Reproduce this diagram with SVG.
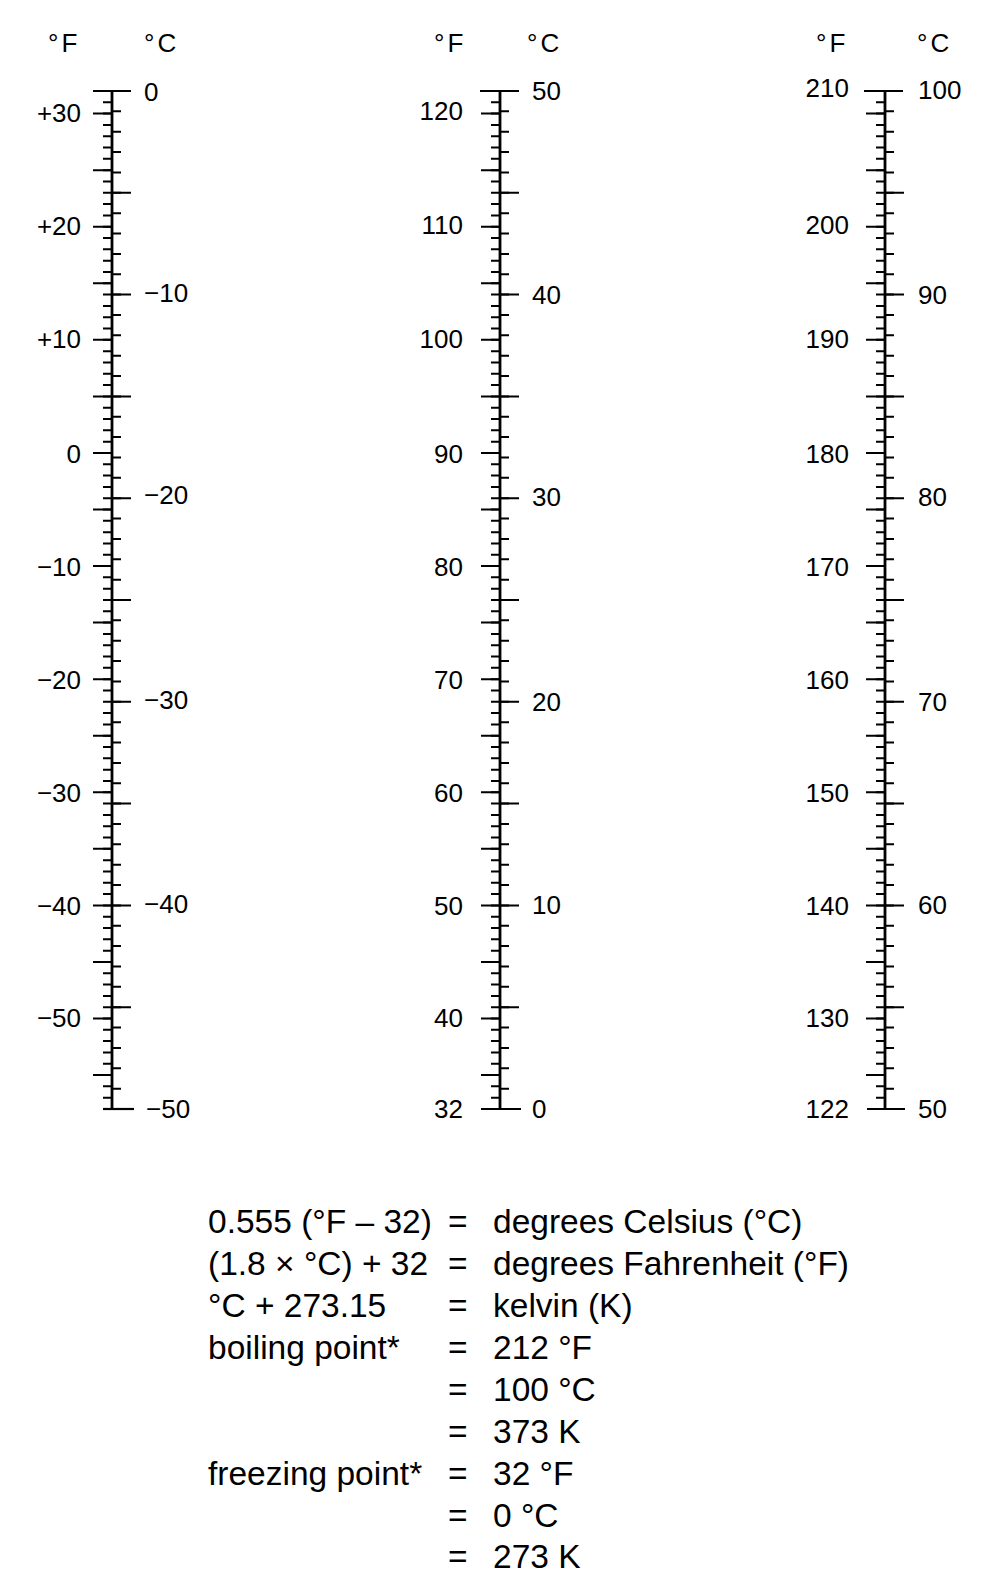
<svg xmlns="http://www.w3.org/2000/svg" xmlns:xlink="http://www.w3.org/1999/xlink" width="984" height="1596" viewBox="0 0 984 1596">
<style>
text{font-family:"Liberation Sans",Arial,Helvetica,sans-serif;font-size:26px;fill:#000}
.e{text-anchor:end}
.h{letter-spacing:3px}
#formulas text{font-size:33.5px}
.ax{stroke:#000;stroke-width:2.8;fill:none}
.t{stroke:#000;fill:none}
.end{stroke:#000;stroke-width:2.2}
</style>
<defs>
<g id="ticks">
<path class="ax" d="M0,91V1109"/>
<path class="t" d="M-4.5,101.31V1098.7" stroke-width="9" stroke-dasharray="2 9.311"/>
<path class="t" d="M-9.5,112.62V1076.1" stroke-width="19" stroke-dasharray="2 54.555"/>
<path class="t" d="M4.5,110.36V1089.7" stroke-width="9" stroke-dasharray="2 18.36"/>
<path class="t" d="M9.5,191.8V1008.3" stroke-width="19" stroke-dasharray="2 99.8"/>
</g>
</defs>
<rect width="984" height="1596" fill="#fff"/>

<g id="scale1">
<text class="h" x="48" y="52">°F</text>
<text class="h" x="144" y="52">°C</text>
<use xlink:href="#ticks" x="112"/>
<line class="end" x1="93" y1="91" x2="131" y2="91"/>
<line class="end" x1="103" y1="1109" x2="134" y2="1109"/>
<g class="e">
<text x="81" y="122">+30</text>
<text x="81" y="235">+20</text>
<text x="81" y="348">+10</text>
<text x="81" y="463">0</text>
<text x="81" y="576">−10</text>
<text x="81" y="689">−20</text>
<text x="81" y="802">−30</text>
<text x="81" y="915">−40</text>
<text x="81" y="1027">−50</text>
</g>
<text x="144" y="101">0</text>
<text x="144" y="302">−10</text>
<text x="144" y="504">−20</text>
<text x="144" y="709">−30</text>
<text x="144" y="913">−40</text>
<text x="146" y="1118">−50</text>
</g>

<g id="scale2">
<text class="h" x="434" y="52">°F</text>
<text class="h" x="527" y="52">°C</text>
<use xlink:href="#ticks" x="500"/>
<line class="end" x1="480" y1="91" x2="519" y2="91"/>
<line class="end" x1="481" y1="1109" x2="521" y2="1109"/>
<g class="e">
<text x="463" y="120">120</text>
<text x="463" y="234">110</text>
<text x="463" y="348">100</text>
<text x="463" y="463">90</text>
<text x="463" y="576">80</text>
<text x="463" y="689">70</text>
<text x="463" y="802">60</text>
<text x="463" y="915">50</text>
<text x="463" y="1027">40</text>
<text x="463" y="1118">32</text>
</g>
<text x="532" y="100">50</text>
<text x="532" y="304">40</text>
<text x="532" y="506">30</text>
<text x="532" y="711">20</text>
<text x="532" y="914">10</text>
<text x="532" y="1118">0</text>
</g>

<g id="scale3">
<text class="h" x="816" y="52">°F</text>
<text class="h" x="917" y="52">°C</text>
<use xlink:href="#ticks" x="885"/>
<line class="end" x1="864" y1="91" x2="903" y2="91"/>
<line class="end" x1="867" y1="1109" x2="905" y2="1109"/>
<g class="e">
<text x="849" y="97">210</text>
<text x="849" y="234">200</text>
<text x="849" y="348">190</text>
<text x="849" y="463">180</text>
<text x="849" y="576">170</text>
<text x="849" y="689">160</text>
<text x="849" y="802">150</text>
<text x="849" y="915">140</text>
<text x="849" y="1027">130</text>
<text x="849" y="1118">122</text>
</g>
<text x="918" y="99">100</text>
<text x="918" y="304">90</text>
<text x="918" y="506">80</text>
<text x="918" y="711">70</text>
<text x="918" y="914">60</text>
<text x="918" y="1118">50</text>
</g>

<g id="formulas">
<text x="208" y="1233">0.555 (°F – 32)</text>
<text x="448" y="1233">=</text>
<text x="493" y="1233">degrees Celsius (°C)</text>
<text x="208" y="1275">(1.8 × °C) + 32</text>
<text x="448" y="1275">=</text>
<text x="493" y="1275">degrees Fahrenheit (°F)</text>
<text x="208" y="1317">°C + 273.15</text>
<text x="448" y="1317">=</text>
<text x="493" y="1317">kelvin (K)</text>
<text x="208" y="1359">boiling point*</text>
<text x="448" y="1359">=</text>
<text x="493" y="1359">212 °F</text>
<text x="448" y="1401">=</text>
<text x="493" y="1401">100 °C</text>
<text x="448" y="1443">=</text>
<text x="493" y="1443">373 K</text>
<text x="208" y="1485">freezing point*</text>
<text x="448" y="1485">=</text>
<text x="493" y="1485">32 °F</text>
<text x="448" y="1527">=</text>
<text x="493" y="1527">0 °C</text>
<text x="448" y="1568">=</text>
<text x="493" y="1568">273 K</text>
</g>
</svg>
